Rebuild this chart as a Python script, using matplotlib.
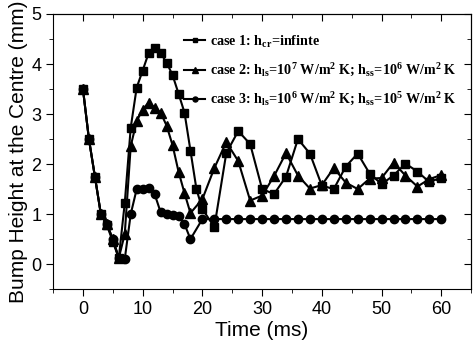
import matplotlib
matplotlib.use('Agg')
from matplotlib import pyplot as plt
from matplotlib.ticker import MultipleLocator

plt.rcParams['font.family'] = ['Liberation Sans', 'DejaVu Sans']
plt.rcParams['mathtext.fontset'] = 'custom'
plt.rcParams['mathtext.rm'] = 'Liberation Serif:bold'
plt.rcParams['mathtext.it'] = 'Liberation Serif:bold'
plt.rcParams['mathtext.bf'] = 'Liberation Serif:bold'

# time (ms) and bump height (mm)
t1 = [0, 1, 2, 3, 4, 5, 6, 7, 8, 9, 10, 11, 12, 13, 14, 15, 16, 17, 18, 19, 20,
      22, 24, 26, 28, 30, 32, 34, 36, 38, 40, 42, 44, 46, 48, 50, 52, 54, 56, 58, 60]
h1 = [3.5, 2.5, 1.75, 1.0, 0.78, 0.45, 0.12, 1.22, 2.73, 3.53, 3.87, 4.22, 4.32, 4.22, 4.03,
      3.78, 3.41, 3.03, 2.27, 1.5, 1.1,
      0.74, 2.22, 2.66, 2.4, 1.5, 1.4, 1.75, 2.5, 2.21, 1.57, 1.5, 1.95, 2.21, 1.81, 1.6,
      1.77, 2.01, 1.85, 1.64, 1.73]

t2 = [0, 1, 2, 3, 4, 5, 6, 7, 8, 9, 10, 11, 12, 13, 14, 15, 16, 17, 18, 20,
      22, 24, 26, 28, 30, 32, 34, 36, 38, 40, 42, 44, 46, 48, 50, 52, 54, 56, 58, 60]
h2 = [3.5, 2.5, 1.75, 1.0, 0.8, 0.5, 0.12, 0.6, 2.36, 2.86, 3.09, 3.23, 3.13, 3.03, 2.77,
      2.38, 1.85, 1.42, 1.02, 1.3,
      1.92, 2.44, 2.06, 1.27, 1.37, 1.76, 2.22, 1.77, 1.51, 1.58, 1.92, 1.63, 1.5, 1.71,
      1.72, 2.03, 1.77, 1.55, 1.7, 1.78]

t3 = [0, 1, 2, 3, 4, 5, 6, 7, 8, 9, 10, 11, 12, 13, 14, 15, 16, 17, 18, 20,
      22, 24, 26, 28, 30, 32, 34, 36, 38, 40, 42, 44, 46, 48, 50, 52, 54, 56, 58, 60]
h3 = [3.5, 2.5, 1.75, 1.0, 0.8, 0.5, 0.12, 0.1, 1.0, 1.5, 1.5, 1.52, 1.4, 1.04, 1.0,
      0.98, 0.96, 0.8, 0.5, 0.9,
      0.9, 0.9, 0.9, 0.9, 0.9, 0.9, 0.9, 0.9, 0.9, 0.9, 0.9, 0.9, 0.9, 0.9, 0.9, 0.9,
      0.9, 0.9, 0.9, 0.9]

labels = [r'case 1: h$_{\mathrm{cr}}$=infinte',
          r'case 2: h$_{\mathrm{ls}}$=10$^{7}$ W/m$^{2}$ K; h$_{\mathrm{ss}}$=10$^{6}$ W/m$^{2}$ K',
          r'case 3: h$_{\mathrm{ls}}$=10$^{6}$ W/m$^{2}$ K; h$_{\mathrm{ss}}$=10$^{5}$ W/m$^{2}$ K']

fig = plt.figure(figsize=(4.74, 3.5), dpi=100)
ax = fig.add_axes([0.112, 0.174, 0.882, 0.786])

ax.plot(t1, h1, 'k-', marker='s', ms=6, lw=1.5, label=labels[0])
ax.plot(t2, h2, 'k-', marker='^', ms=6.5, lw=1.5, label=labels[1])
ax.plot(t3, h3, 'k-', marker='o', ms=6, lw=1.5, label=labels[2])

ax.set_xlim(-5, 65)
ax.set_ylim(-0.5, 5)
ax.xaxis.set_major_locator(MultipleLocator(10))
ax.xaxis.set_minor_locator(MultipleLocator(5))
ax.yaxis.set_major_locator(MultipleLocator(1))
ax.yaxis.set_minor_locator(MultipleLocator(0.5))
ax.tick_params(which='both', direction='out', labelsize=13)
ax.tick_params(which='major', length=5)
ax.tick_params(which='minor', length=3)

# mirrored ticks on top and right, pointing in
top = ax.secondary_xaxis('top')
top.xaxis.set_major_locator(MultipleLocator(10))
top.xaxis.set_minor_locator(MultipleLocator(5))
top.tick_params(which='both', direction='in', labeltop=False)
top.tick_params(which='major', length=5)
top.tick_params(which='minor', length=3)
right = ax.secondary_yaxis('right')
right.yaxis.set_major_locator(MultipleLocator(1))
right.yaxis.set_minor_locator(MultipleLocator(0.5))
right.tick_params(which='both', direction='in', labelright=False)
right.tick_params(which='major', length=5)
right.tick_params(which='minor', length=3)

ax.set_xlabel('Time (ms)', fontsize=15, labelpad=2)
ax.set_ylabel('Bump Height at the Centre (mm)', fontsize=15, labelpad=2)

leg = ax.legend(loc='upper left', bbox_to_anchor=(0.3, 0.95), frameon=False,
                prop={'family': 'Liberation Serif', 'weight': 'bold', 'size': 10.2},
                handlelength=1.5, handletextpad=0.3, labelspacing=0.85,
                markerscale=0.6, borderaxespad=0)

fig.savefig('out.png', dpi=100)
